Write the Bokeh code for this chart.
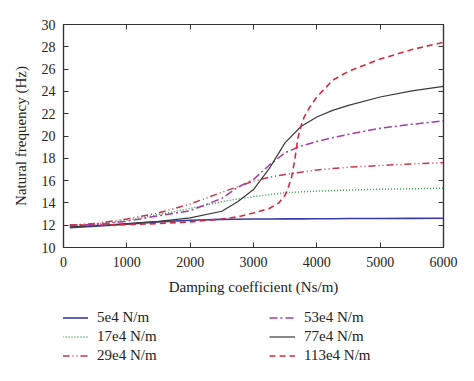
from bokeh.plotting import figure
from bokeh.models import LinearAxis, Legend, LegendItem, FixedTicker, Range1d
from bokeh.layouts import column
from bokeh.embed import file_html
from bokeh.resources import INLINE

# Damping coefficient (Ns/m)
damping = [100, 500, 1000, 1500, 2000, 2500, 2750, 3000, 3250, 3500, 3750,
           4000, 4250, 4500, 5000, 5500, 6000]

f_5e4 = [11.78, 11.9, 12.1, 12.3, 12.45, 12.52, 12.54, 12.55, 12.56, 12.57, 12.57,
         12.58, 12.58, 12.6, 12.6, 12.61, 12.62]
f_17e4 = [12.0, 12.1, 12.45, 12.95, 13.5, 14.1, 14.35, 14.55, 14.75, 14.9, 15.0,
          15.05, 15.1, 15.15, 15.22, 15.27, 15.32]
f_29e4 = [12.0, 12.15, 12.55, 13.1, 13.9, 14.95, 15.45, 15.95, 16.3, 16.55, 16.75,
          16.95, 17.08, 17.2, 17.35, 17.5, 17.6]
f_53e4 = [12.0, 12.05, 12.35, 12.85, 13.3, 14.4, 15.4, 16.1, 17.4, 18.5, 19.1,
          19.5, 19.85, 20.15, 20.7, 21.05, 21.35]
f_77e4 = [11.85, 11.95, 12.15, 12.35, 12.65, 13.25, 14.1, 15.2, 17.1, 19.4, 20.85,
          21.7, 22.3, 22.75, 23.5, 24.05, 24.45]

damping_113 = [100, 500, 1000, 1500, 2000, 2500, 2750, 3000, 3250, 3400, 3500, 3550,
               3600, 3650, 3700, 3750, 3800, 3900, 4000, 4250, 4500, 5000, 5500, 6000]
f_113e4 = [12.0, 12.0, 12.05, 12.15, 12.3, 12.55, 12.75, 13.1, 13.5, 14.0, 14.7, 15.4,
           16.3, 17.8, 19.8, 20.9, 21.7, 22.7, 23.5, 25.0, 25.8, 26.9, 27.75, 28.4]

labels = ["5e4 N/m", "17e4 N/m", "29e4 N/m", "53e4 N/m", "77e4 N/m", "113e4 N/m"]
x_ticks = [0, 1000, 2000, 3000, 4000, 5000, 6000]
y_ticks = [10, 12, 14, 16, 18, 20, 22, 24, 26, 28, 30]

FONT = "Liberation Serif"
AXC = "#333333"

styles = [
    dict(line_color="#3a3aa8", line_width=1.6),
    dict(line_color="#2f9e48", line_width=1.5, line_dash="1 2"),
    dict(line_color="#c8354a", line_width=1.5, line_dash="7 3 1 3 1 3"),
    dict(line_color="#a83ab0", line_width=1.5, line_dash="8 3 2 3"),
    dict(line_color="#3a3a3a", line_width=1.2),
    dict(line_color="#d8283e", line_width=1.6, line_dash="6 4"),
]

p = figure(width=465, height=300, x_range=Range1d(0, 6000), y_range=Range1d(10, 30),
           output_backend="svg", toolbar_location=None,
           min_border_left=63, min_border_right=22, min_border_top=24, min_border_bottom=53)
p.xgrid.visible = False
p.ygrid.visible = False
p.outline_line_color = AXC
p.outline_line_width = 1.2

def style_axis(ax, show_labels=True):
    ax.axis_line_color = AXC
    ax.axis_line_width = 1.2
    ax.major_tick_line_color = AXC
    ax.major_tick_in = 5
    ax.major_tick_out = 0
    ax.minor_tick_line_color = None
    ax.major_label_text_font = FONT
    ax.major_label_text_font_size = "14px"
    ax.major_label_text_color = "#222222"
    ax.axis_label_text_font = FONT
    ax.axis_label_text_font_size = "15px"
    ax.axis_label_text_font_style = "normal"
    ax.axis_label_text_color = "#222222"
    if not show_labels:
        ax.major_label_text_font_size = "0px"
        ax.major_label_standoff = 0

p.xaxis.ticker = FixedTicker(ticks=x_ticks)
p.yaxis.ticker = FixedTicker(ticks=y_ticks)
p.xaxis.axis_label = "Damping coefficient (Ns/m)"
p.yaxis.axis_label = "Natural frequency (Hz)"
style_axis(p.xaxis[0])
style_axis(p.yaxis[0])
p.xaxis.major_label_standoff = 9
p.yaxis.major_label_standoff = 8
p.xaxis.axis_label_standoff = 9
p.yaxis.axis_label_standoff = 10

top_ax = LinearAxis(ticker=FixedTicker(ticks=x_ticks))
right_ax = LinearAxis(ticker=FixedTicker(ticks=y_ticks))
style_axis(top_ax, False)
style_axis(right_ax, False)
p.add_layout(top_ax, "above")
p.add_layout(right_ax, "right")

xs = [damping, damping, damping, damping, damping, damping_113]
ys = [f_5e4, f_17e4, f_29e4, f_53e4, f_77e4, f_113e4]
for xv, yv, st in zip(xs, ys, styles):
    p.line(xv, yv, **st)

# legend panel below the chart (its lines lie outside its own ranges; only the key shows)
pl = figure(width=465, height=81, output_backend="svg", toolbar_location=None,
            x_range=Range1d(-2, -1), y_range=Range1d(0, 1),
            x_axis_location=None, y_axis_location=None,
            min_border_left=0, min_border_right=0, min_border_top=0, min_border_bottom=0)
pl.xgrid.visible = False
pl.ygrid.visible = False
pl.outline_line_color = None
leg_renderers = [pl.line(xv, yv, **st) for xv, yv, st in zip(xs, ys, styles)]
items = [LegendItem(label=l, renderers=[r]) for l, r in zip(labels, leg_renderers)]
legend = Legend(items=items, ncols=2, location=(-1, 16),
                glyph_width=26, glyph_height=19, label_standoff=9, label_width=172,
                label_height=19, spacing=0, padding=0, margin=0,
                border_line_color=None, background_fill_alpha=0,
                label_text_font=FONT, label_text_font_size="15px",
                label_text_color="#222222")
pl.add_layout(legend, "center")

open("out.html", "w").write(file_html(column(p, pl, spacing=0), INLINE))
